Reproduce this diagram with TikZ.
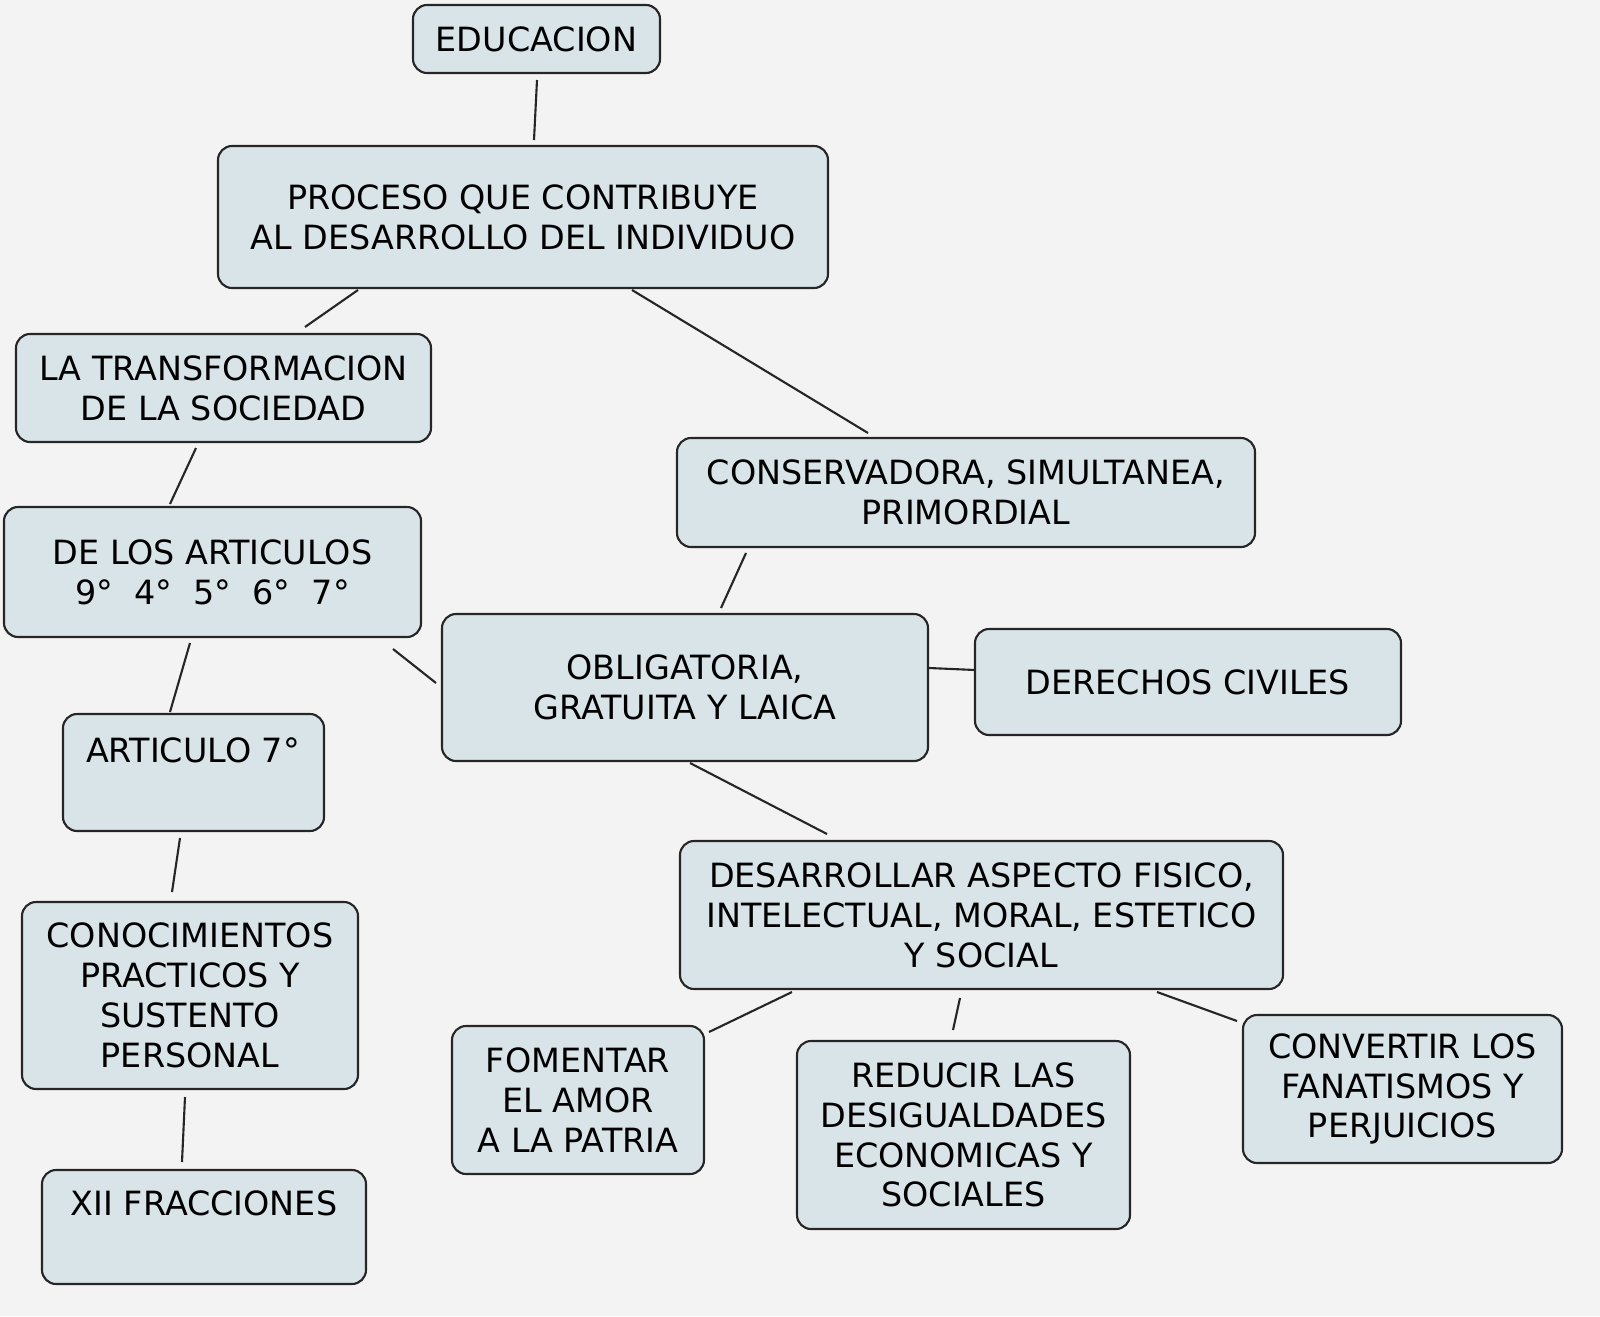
\documentclass[tikz,border=0pt]{standalone}
\usepackage{fontspec}
\setmainfont{DejaVu Sans}
\definecolor{bg}{HTML}{F3F3F3}
\definecolor{boxfill}{HTML}{D9E4E9}
\begin{document}
\begin{tikzpicture}[x=0.03cm,y=-0.03cm,
  bx/.style={draw=black!85,line width=1.8pt,fill=boxfill,rounded corners=12pt},
  lbl/.style={align=center,font=\fontsize{28.5}{34}\selectfont},
  ln/.style={line width=1.8pt,black!85}]
\fill[bg] (0,0) rectangle (1600,1316);
\useasboundingbox (0,0) rectangle (1600,1316);
\newcommand{\bxn}[6]{\draw[bx] (#2,#3) rectangle (#4,#5); \node[lbl] (#1) at ({(#2+#4)/2},{(#3+#5)/2}) {#6};}
\bxn{edu}{413}{5}{660}{73}{EDUCACION}
\bxn{proc}{218}{146}{828}{288}{PROCESO QUE CONTRIBUYE\\AL DESARROLLO DEL INDIVIDUO}
\bxn{trans}{16}{334}{431}{442}{LA TRANSFORMACION\\DE LA SOCIEDAD}
\bxn{art}{4}{507}{421}{637}{DE LOS ARTICULOS\\9°~~4°~~5°~~6°~~7°}
\bxn{cons}{677}{438}{1255}{547}{CONSERVADORA, SIMULTANEA,\\PRIMORDIAL}
\bxn{obl}{442}{614}{928}{761}{OBLIGATORIA,\\GRATUITA Y LAICA}
\bxn{der}{975}{629}{1401}{735}{DERECHOS CIVILES}
\draw[bx] (63,714) rectangle (324,831); \node[lbl] (a7) at (193,750) {ARTICULO 7°};
\bxn{conoc}{22}{902}{358}{1089}{CONOCIMIENTOS\\PRACTICOS Y\\SUSTENTO\\PERSONAL}
\draw[bx] (42,1170) rectangle (366,1284); \node[lbl] (xii) at (204,1203) {XII FRACCIONES};
\bxn{des}{680}{841}{1283}{989}{DESARROLLAR ASPECTO FISICO,\\INTELECTUAL, MORAL, ESTETICO\\Y SOCIAL}
\bxn{fom}{452}{1026}{704}{1174}{FOMENTAR\\EL AMOR\\A LA PATRIA}
\bxn{red}{797}{1041}{1130}{1229}{REDUCIR LAS\\DESIGUALDADES\\ECONOMICAS Y\\SOCIALES}
\bxn{conv}{1243}{1015}{1562}{1163}{CONVERTIR LOS\\FANATISMOS Y\\PERJUICIOS}
\foreach \a/\b/\c/\d in {537/80/534/140, 358/290/305/327, 632/290/868/433, 196/448/170/504,
 746/553/721/608, 190/643/170/712, 393/649/436/683, 929/668/975/670, 690/763/827/834,
 180/838/172/892, 185/1097/182/1162, 792/992/709/1032, 960/998/953/1030, 1157/992/1237/1021}
 {\coordinate (p) at (\a,\b); \coordinate (q) at (\c,\d); \draw[ln] (p) -- (q);}
\end{tikzpicture}
\end{document}
